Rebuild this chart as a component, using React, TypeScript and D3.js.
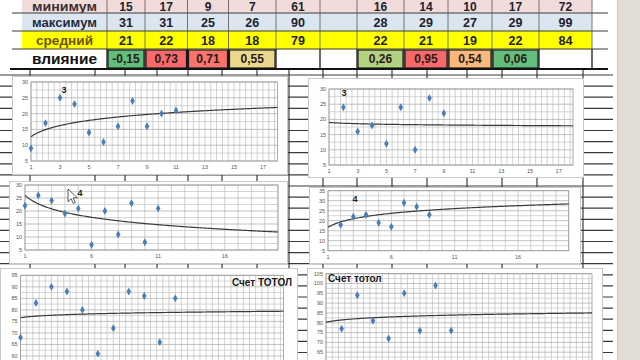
import React, { useEffect, useRef } from "react";
import * as d3 from "d3";

// table values
const rowLabels = ["минимум", "максимум", "средний", "влияние"];
const minLeft = [15, 17, 9, 7, 61];
const maxLeft = [31, 31, 25, 26, 90];
const avgLeft = [21, 22, 18, 18, 79];
const impactLeft = ["-0,15", "0,73", "0,71", "0,55", ""];
const minRight = [16, 14, 10, 17, 72];
const maxRight = [28, 29, 27, 29, 99];
const avgRight = [22, 21, 19, 22, 84];
const impactRight = ["0,26", "0,95", "0,54", "0,06", ""];

// scatter series (y values, x runs from firstX upward)
const series3a = [9, 17, 25, 23, 14, 11, 16, 24, 16, 20, 21];
const series3b = [24, 16, 18, 12, 24, 10, 27, 22];
const series4a = [22, 26, 24, 19, 21, 7, 20, 11, 23, 8, 21];
const series4b = [18, 22, 23, 19, 17, 29, 27, 23];
const seriesTotalA = [68, 83, 90, 88, 80, 61, 72, 88, 86, 66, 85];
const seriesTotalB = [77, 94, 81, 72, 95, 76, 99, 76];
const firstX = [1, 2, 1, 2, 1, 2];
// log trendline y = a + b*ln(x)
const trendA = [12.7, 19.0, 26.0, 16.7, 76.6, 80.3];
const trendB = [3.2, -0.38, -4.7, 3.9, 0.97, 1.63];
const chartTitles = ["3", "3", "4", "4", "Счет ТОТОЛ", "Счет тотол"];

const allSeries = [series3a, series3b, series4a, series4b, seriesTotalA, seriesTotalB];

const impactColorsLeft = ["#63be7b", "#f8696b", "#f8736c", "#ead98c", "#ffffff"];
const impactColorsRight = ["#b3d281", "#f8696b", "#fbb87b", "#63be7b", "#ffffff"];

type ChartCfg = {
  box: [number, number, number, number];
  plot: [number, number, number, number];
  xDom: [number, number];
  yDom: [number, number];
  xTicks: number[];
  yStep: number;
  xMinor: number;
  yMinor: number;
  title: { x: number; y: number; anchor: string; size: number };
};

const layouts: ChartCfg[] = [
  { box: [12, 76, 287, 174], plot: [31, 82, 277.5, 161], xDom: [1, 18], yDom: [5, 30], xTicks: d3.range(1, 18, 2), yStep: 5, xMinor: 0.4, yMinor: 2.5, title: { x: 64, y: 90, anchor: "middle", size: 9 } },
  { box: [308, 78, 583, 177], plot: [329, 89, 573, 165], xDom: [1, 18], yDom: [5, 30], xTicks: d3.range(1, 18, 2), yStep: 5, xMinor: 0.4, yMinor: 2.5, title: { x: 344, y: 93, anchor: "middle", size: 9 } },
  { box: [9, 181, 287, 263], plot: [25, 185, 278, 250], xDom: [1, 20], yDom: [5, 30], xTicks: [1, 6, 11, 16], yStep: 5, xMinor: 1, yMinor: 2.5, title: { x: 80, y: 193, anchor: "middle", size: 9 } },
  { box: [309, 187, 580, 263], plot: [328, 190.7, 568.7, 250.7], xDom: [1, 20], yDom: [5, 35], xTicks: [1, 6, 11, 16], yStep: 5, xMinor: 1, yMinor: 2.5, title: { x: 355, y: 199, anchor: "middle", size: 9 } },
  { box: [0, 268, 297, 375], plot: [20.5, 275.3, 283.5, 367.5], xDom: [1, 18], yDom: [55, 95], xTicks: d3.range(1, 18, 2), yStep: 5, xMinor: 0.4, yMinor: 2.5, title: { x: 292, y: 282, anchor: "end", size: 10 } },
  { box: [307, 268, 602, 375], plot: [326, 273.7, 592, 362], xDom: [1, 18], yDom: [60, 105], xTicks: d3.range(1, 18, 2), yStep: 5, xMinor: 0.4, yMinor: 2.5, title: { x: 328, y: 278, anchor: "start", size: 10 } },
];

const colEdges = [22, 107, 145, 187.5, 228.5, 276, 320, 357, 404, 448, 492, 539, 592];
const rowEdges = [-5, 13, 31, 49, 69];
const rowFills = ["#f2dcdb", "#dce6f1", "#ffff00", "#ffffff"];
const labelColors = ["#3a2f2f", "#1f2a40", "#6e5200", "#111111"];
const sheetCols = [30, 95, 125, 157, 188, 222, 257, 289, 323, 357, 392, 427, 467, 502, 537, 583];

const FONT = "'Liberation Sans', Arial, sans-serif";
const VISIBLE_BOTTOM = 357;

export default function App() {
  const svgRef = useRef<SVGSVGElement>(null);

  useEffect(() => {
    if (!svgRef.current) return;
    const svg = d3.select(svgRef.current);
    svg.selectAll("*").remove();

    svg.append("rect").attr("width", 640).attr("height", 360).attr("fill", "#ffffff");

    // spreadsheet grid behind the charts
    const gridG = svg.append("g").attr("stroke", "#3a3a3a").attr("stroke-width", 1.2);
    d3.range(75, 360, 11.1).forEach(yy => {
      gridG.append("line").attr("x1", 0).attr("x2", 613).attr("y1", yy).attr("y2", yy);
    });
    sheetCols.forEach(xx => {
      gridG.append("line").attr("x1", xx).attr("x2", xx).attr("y1", 69).attr("y2", 360);
    });

    // table
    const table = svg.append("g");
    const rows = [
      { label: rowLabels[0], vals: [...minLeft.map(String), "", ...minRight.map(String)] },
      { label: rowLabels[1], vals: [...maxLeft.map(String), "", ...maxRight.map(String)] },
      { label: rowLabels[2], vals: [...avgLeft.map(String), "", ...avgRight.map(String)] },
      { label: rowLabels[3], vals: [...impactLeft, "", ...impactRight] },
    ];
    const impactFills = [...impactColorsLeft, "#ffffff", ...impactColorsRight];

    rows.forEach((r, ri) => {
      const y0 = rowEdges[ri], y1 = rowEdges[ri + 1];
      const cy = ri === 0 ? 6.3 : (y0 + y1) / 2;
      table.append("rect")
        .attr("x", colEdges[0]).attr("y", y0)
        .attr("width", colEdges[colEdges.length - 1] - colEdges[0]).attr("height", y1 - y0)
        .attr("fill", rowFills[ri]);
      if (ri === 3) {
        r.vals.forEach((v, ci) => {
          if (!v) return;
          table.append("rect")
            .attr("x", colEdges[ci + 1] + 1).attr("y", y0 + 1)
            .attr("width", colEdges[ci + 2] - colEdges[ci + 1] - 2).attr("height", y1 - y0 - 2)
            .attr("fill", impactFills[ci])
            .attr("stroke", "#1a1a1a").attr("stroke-width", 1.2);
        });
      }
      table.append("text")
        .attr("x", 64.5).attr("y", cy).attr("dy", "0.36em")
        .attr("text-anchor", "middle")
        .attr("font-family", FONT).attr("font-weight", "bold")
        .attr("font-size", ri === 3 ? 15 : ri === 0 ? 12 : 12.5)
        .attr("fill", labelColors[ri])
        .attr("textLength", ri === 2 ? 57 : 65).attr("lengthAdjust", "spacingAndGlyphs")
        .text(r.label);
      r.vals.forEach((v, ci) => {
        if (!v) return;
        table.append("text")
          .attr("x", (colEdges[ci + 1] + colEdges[ci + 2]) / 2)
          .attr("y", cy).attr("dy", "0.36em")
          .attr("text-anchor", "middle")
          .attr("font-family", FONT).attr("font-weight", "bold")
          .attr("font-size", ri === 3 ? 12 : ri === 0 ? 12 : 12.5)
          .attr("fill", ri === 3 ? "#2a1a1a" : "#20222e")
          .text(v);
      });
    });
    [13, 31, 49].forEach(yy => {
      table.append("line").attr("x1", 12).attr("x2", 608).attr("y1", yy).attr("y2", yy)
        .attr("stroke", "#3a3a3a").attr("stroke-width", 1.2);
    });
    table.append("line").attr("x1", 10).attr("x2", 608).attr("y1", 69).attr("y2", 69)
      .attr("stroke", "#111").attr("stroke-width", 2);
    colEdges.slice(1).forEach(xx => {
      table.append("line").attr("x1", xx).attr("x2", xx).attr("y1", 0).attr("y2", 49)
        .attr("stroke", "#555").attr("stroke-width", 0.8);
      table.append("line").attr("x1", xx).attr("x2", xx).attr("y1", 49).attr("y2", 69)
        .attr("stroke", "#1a1a1a").attr("stroke-width", 1.3);
    });

    // charts
    layouts.forEach((cfg, i) => {
      const g = svg.append("g");
      const [bx0, by0, bx1, by1] = cfg.box;
      const [px0, py0, px1, py1] = cfg.plot;
      g.append("rect")
        .attr("x", bx0 + 0.5).attr("y", by0 + 0.5)
        .attr("width", bx1 - bx0).attr("height", by1 - by0)
        .attr("fill", "#ffffff").attr("stroke", "#c8c8c8").attr("stroke-width", 1);

      const x = d3.scaleLinear().domain(cfg.xDom).range([px0, px1]);
      const y = d3.scaleLinear().domain(cfg.yDom).range([py1, py0]);

      const grid = g.append("g").attr("stroke", "#bdbdbd").attr("stroke-width", 0.7);
      d3.range(cfg.xDom[0], cfg.xDom[1] + 1e-6, cfg.xMinor).forEach(v => {
        grid.append("line").attr("x1", x(v)).attr("x2", x(v)).attr("y1", py0).attr("y2", py1);
      });
      d3.range(cfg.yDom[0], cfg.yDom[1] + 1e-6, cfg.yMinor).forEach(v => {
        grid.append("line").attr("x1", px0).attr("x2", px1).attr("y1", y(v)).attr("y2", y(v))
          .attr("stroke", v % cfg.yStep === 0 ? "#a8a8a8" : "#c4c4c4");
      });
      g.append("rect")
        .attr("x", px0).attr("y", py0).attr("width", px1 - px0).attr("height", py1 - py0)
        .attr("fill", "none").attr("stroke", "#9a9a9a").attr("stroke-width", 0.8);

      // y labels (only those inside the visible page)
      d3.range(cfg.yDom[0], cfg.yDom[1] + 1e-6, cfg.yStep)
        .filter(v => y(v) <= VISIBLE_BOTTOM)
        .forEach(v => {
          g.append("text")
            .attr("x", px0 - 3).attr("y", y(v)).attr("dy", "0.35em")
            .attr("text-anchor", "end")
            .attr("font-family", FONT).attr("font-size", 5.5).attr("fill", "#555")
            .text(v);
        });
      // x labels (the two bottom charts run off the page)
      if (py1 + 9 < VISIBLE_BOTTOM) {
        cfg.xTicks.forEach(v => {
          g.append("text")
            .attr("x", x(v)).attr("y", py1 + 6).attr("dy", "0.35em")
            .attr("text-anchor", "middle")
            .attr("font-family", FONT).attr("font-size", 5.5).attr("fill", "#555")
            .text(v);
        });
      }

      // trendline
      const line = d3.line<number>()
        .x(v => x(v))
        .y(v => y(trendA[i] + trendB[i] * Math.log(v)));
      g.append("path")
        .datum(d3.range(cfg.xDom[0], cfg.xDom[1] + 1e-6, 0.1))
        .attr("fill", "none").attr("stroke", "#3a3a3a").attr("stroke-width", 1.2)
        .attr("d", line);

      // points
      const pts = allSeries[i].map((v, k) => ({ x: firstX[i] + k, y: v }));
      g.selectAll("path.pt")
        .data(pts)
        .join("path")
        .attr("class", "pt")
        .attr("transform", d => `translate(${x(d.x)},${y(d.y)})`)
        .attr("d", d3.symbol().type(d3.symbolDiamond).size(18)())
        .attr("fill", "#4a7ebb");

      g.append("text")
        .attr("x", cfg.title.x).attr("y", cfg.title.y).attr("dy", "0.35em")
        .attr("text-anchor", cfg.title.anchor)
        .attr("font-family", FONT).attr("font-weight", "bold")
        .attr("font-size", cfg.title.size).attr("fill", "#1a1a1a")
        .text(chartTitles[i]);
    });

    // mouse pointer left in the screenshot
    svg.append("path")
      .attr("transform", "translate(68,189) scale(0.85)")
      .attr("d", "M0,0 L0,15 L3.6,11.4 L6.2,17 L8.6,16 L6,10.4 L11,10.4 Z")
      .attr("fill", "#ffffff").attr("stroke", "#222").attr("stroke-width", 0.9);

    // grey window panel on the right
    svg.append("rect").attr("x", 618).attr("y", 0).attr("width", 22).attr("height", 360).attr("fill", "#e1dcd4");
    svg.append("line").attr("x1", 617.5).attr("x2", 617.5).attr("y1", 0).attr("y2", 360)
      .attr("stroke", "#cfc9bf").attr("stroke-width", 1);
  }, []);

  return (
    <svg ref={svgRef} width={640} height={360}
      style={{ position: "absolute", left: 0, top: 0, display: "block" }} />
  );
}
